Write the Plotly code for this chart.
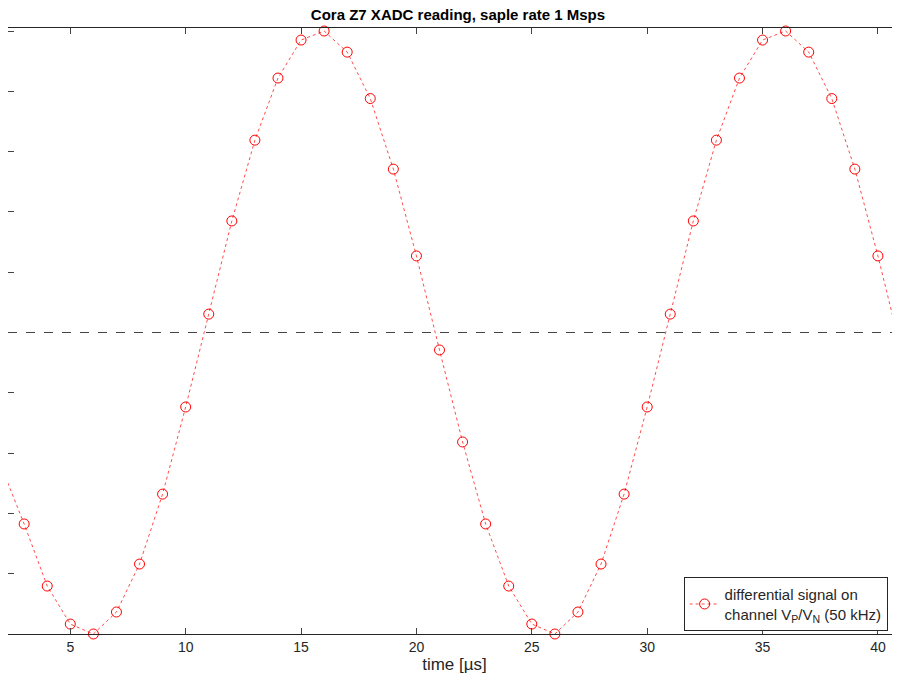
import plotly.graph_objects as go

t = list(range(2, 42))
v = [-0.443, -0.635, -0.841, -0.967, -1.0, -0.927, -0.768, -0.536, -0.247, 0.061,
     0.370, 0.638, 0.844, 0.970, 1.0, 0.930, 0.776, 0.542, 0.254, -0.058,
     -0.363, -0.635, -0.841, -0.967, -1.0, -0.927, -0.768, -0.536, -0.247, 0.061,
     0.370, 0.638, 0.844, 0.970, 1.0, 0.930, 0.776, 0.542, 0.254, -0.058]
xticks = [5, 10, 15, 20, 25, 30, 35, 40]
yticks = [-1.0, -0.8, -0.6, -0.4, -0.2, 0.0, 0.2, 0.4, 0.6, 0.8, 1.0]

fig = go.Figure()
fig.add_trace(go.Scatter(x=t, y=v, mode="lines+markers", cliponaxis=False,
    line=dict(color="rgba(255,0,0,0.7)", width=1, dash="dot"),
    marker=dict(symbol="circle-open", size=10, color="red", line=dict(width=1)),
    name="differential signal on<br>channel V<sub>P</sub>/V<sub>N</sub> (50 kHz)"))
fig.add_hline(y=0, line=dict(color="#444", width=1, dash="dash"))
fig.update_layout(
    width=900, height=675, plot_bgcolor="white", paper_bgcolor="white",
    margin=dict(l=0, r=7, t=20, b=49, pad=0, autoexpand=False),
    font=dict(family="Liberation Sans", size=14, color="#262626"),
    title=dict(text="<b>Cora Z7 XADC reading, saple rate 1 Msps</b>", x=0.5, xanchor="center",
               y=0.998, yanchor="top", font=dict(size=15, color="black")),
    showlegend=True,
    legend=dict(x=0.985, y=0.005, xanchor="right", yanchor="bottom", bgcolor="white",
                bordercolor="#262626", borderwidth=1, font=dict(size=15)),
    xaxis=dict(range=[2.3, 41.0], tickvals=xticks, ticks="inside", ticklen=6, mirror="ticks",
               showline=True, linecolor="#262626", showgrid=False, zeroline=False,
               automargin=False, title=dict(text="time [µs]", standoff=4)),
    yaxis=dict(range=[-1.0, 1.01], tickvals=yticks, ticks="inside", ticklen=6, mirror="ticks",
               showline=True, linecolor="#262626", showgrid=False, zeroline=False,
               automargin=False, showticklabels=False),
)
fig.write_html("out.html")
